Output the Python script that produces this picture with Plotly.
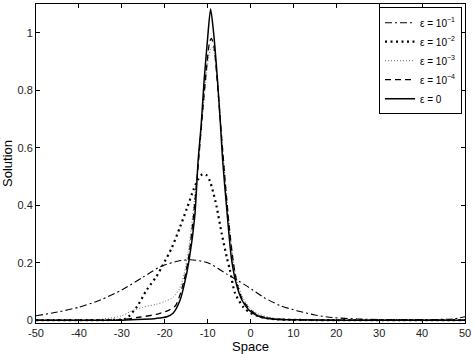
import plotly.graph_objects as go

# eps = 1e-1 (dash-dot)
x_e1 = [-50, -45, -40, -35, -30, -25, -21, -17, -14, -10, -5.5, -1, 3, 7, 11, 15, 19, 25, 30, 40, 47, 50]
y_e1 = [0.015, 0.028, 0.045, 0.07, 0.105, 0.15, 0.186, 0.205, 0.21, 0.2, 0.16, 0.12, 0.08, 0.05, 0.032, 0.018, 0.009, 0.004, 0.002, 0.002, 0.004, 0.012]

# eps = 1e-2 (dense dots)
x_e2 = [-50, -35, -30, -28.9, -26.5, -24.2, -22, -20.5, -18.4, -16.4, -14.8, -13.3, -12.2, -11.2, -10.3, -9.5, -8.7, -7.9, -6.7, -5.55, -4.8, -3.6, -1.7, 0, 2.2, 5, 10, 20, 50]
y_e2 = [0.0, 0.0, 0.002, 0.006, 0.046, 0.105, 0.15, 0.19, 0.25, 0.325, 0.39, 0.453, 0.49, 0.508, 0.505, 0.485, 0.445, 0.395, 0.3, 0.22, 0.174, 0.093, 0.046, 0.025, 0.012, 0.004, 0.001, 0.0, 0.0]

# eps = 1e-3 (fine dots)
x_e3 = [-50, -35, -30, -28, -25, -22, -20, -18, -16.5, -15.5, -14.5, -13.5, -12.5, -11.5, -10.5, -9.7, -9, -8.3, -7.5, -6.5, -5.5, -4.5, -3.5, -2, 0, 2, 5, 10, 20, 50]
y_e3 = [0.0, 0.003, 0.015, 0.03, 0.045, 0.055, 0.065, 0.08, 0.11, 0.16, 0.24, 0.36, 0.5, 0.66, 0.82, 0.92, 0.95, 0.92, 0.8, 0.6, 0.42, 0.27, 0.16, 0.085, 0.04, 0.02, 0.008, 0.002, 0.0, 0.0]

# eps = 1e-4 (dashed)
x_e4 = [-50, -35, -30, -26, -22, -19, -17.5, -16.3, -15.3, -14.3, -13.3, -12.3, -11.3, -10.3, -9.5, -9.1, -8.5, -7.7, -6.8, -6, -5, -4, -3, -2, 0, 2, 5, 10, 20, 50]
y_e4 = [0.0, 0.0, 0.002, 0.01, 0.02, 0.035, 0.05, 0.094, 0.15, 0.23, 0.36, 0.52, 0.7, 0.87, 0.97, 0.98, 0.95, 0.82, 0.65, 0.5, 0.33, 0.2, 0.12, 0.075, 0.035, 0.015, 0.005, 0.001, 0.0, 0.0]

# eps = 0 (solid)
x_e0 = [-50, -30, -25, -22, -19.5, -18, -16.4, -15.5, -14.3, -13, -12.2, -11.5, -10.8, -10, -9.3, -8.6, -7.7, -7, -6.5, -5.5, -4.4, -3.2, -2, 0, 2.2, 5, 10, 20, 50]
y_e0 = [0.0, 0.0, 0.003, 0.006, 0.012, 0.025, 0.07, 0.12, 0.21, 0.36, 0.557, 0.68, 0.836, 0.98, 1.083, 1.0, 0.836, 0.68, 0.557, 0.38, 0.21, 0.12, 0.07, 0.03, 0.012, 0.004, 0.001, 0.0, 0.0]

names = ["ε = 10<sup>−1</sup>", "ε = 10<sup>−2</sup>", "ε = 10<sup>−3</sup>", "ε = 10<sup>−4</sup>", "ε = 0"]
x_ticks = [-50, -40, -30, -20, -10, 0, 10, 20, 30, 40, 50]
x_ticktext = ["-50", "-40", "-30", "-20", "-10", "0", "10", "20", "30", "40", "50"]
y_ticks = [0, 0.2, 0.4, 0.6, 0.8, 1]
y_ticktext = ["0", "0.2", "0.4", "0.6", "0.8", "1"]

series = [
    (x_e1, y_e1, dict(color="black", width=1.1, dash="7px,3px,2px,3px")),
    (x_e2, y_e2, dict(color="black", width=2.2, dash="2px,3.5px")),
    (x_e3, y_e3, dict(color="#666666", width=1, dash="1px,2px")),
    (x_e4, y_e4, dict(color="black", width=1.3, dash="6px,4px")),
    (x_e0, y_e0, dict(color="black", width=1.5)),
]

fig = go.Figure()
for (xs, ys, ln), nm in zip(series, names):
    fig.add_trace(go.Scatter(x=xs, y=ys, mode="lines", name=nm,
                             line=dict(shape="spline", smoothing=0.7, **ln)))

axis_common = dict(showline=True, linecolor="black", linewidth=1, mirror="ticks",
                   ticks="inside", ticklen=4, tickcolor="black", showgrid=False,
                   zeroline=False, tickfont=dict(size=11, color="#222222"))

fig.update_layout(
    width=474, height=355,
    margin=dict(l=36, r=9, t=4, b=32),
    paper_bgcolor="white", plot_bgcolor="white",
    font=dict(family="Liberation Sans, Arial, sans-serif", color="black", size=11),
    xaxis=dict(range=[-50, 50], tickvals=x_ticks, ticktext=x_ticktext,
               title=dict(text="Space", font=dict(size=13), standoff=2), **axis_common),
    yaxis=dict(range=[-0.01, 1.1], tickvals=y_ticks, ticktext=y_ticktext,
               title=dict(text="Solution", font=dict(size=13), standoff=4), **axis_common),
    legend=dict(x=0.993, y=0.99, xanchor="right", yanchor="top",
                bgcolor="white", bordercolor="black", borderwidth=1,
                font=dict(size=10), itemwidth=30, tracegroupgap=0),
    showlegend=True,
)

fig.write_html("out.html")
